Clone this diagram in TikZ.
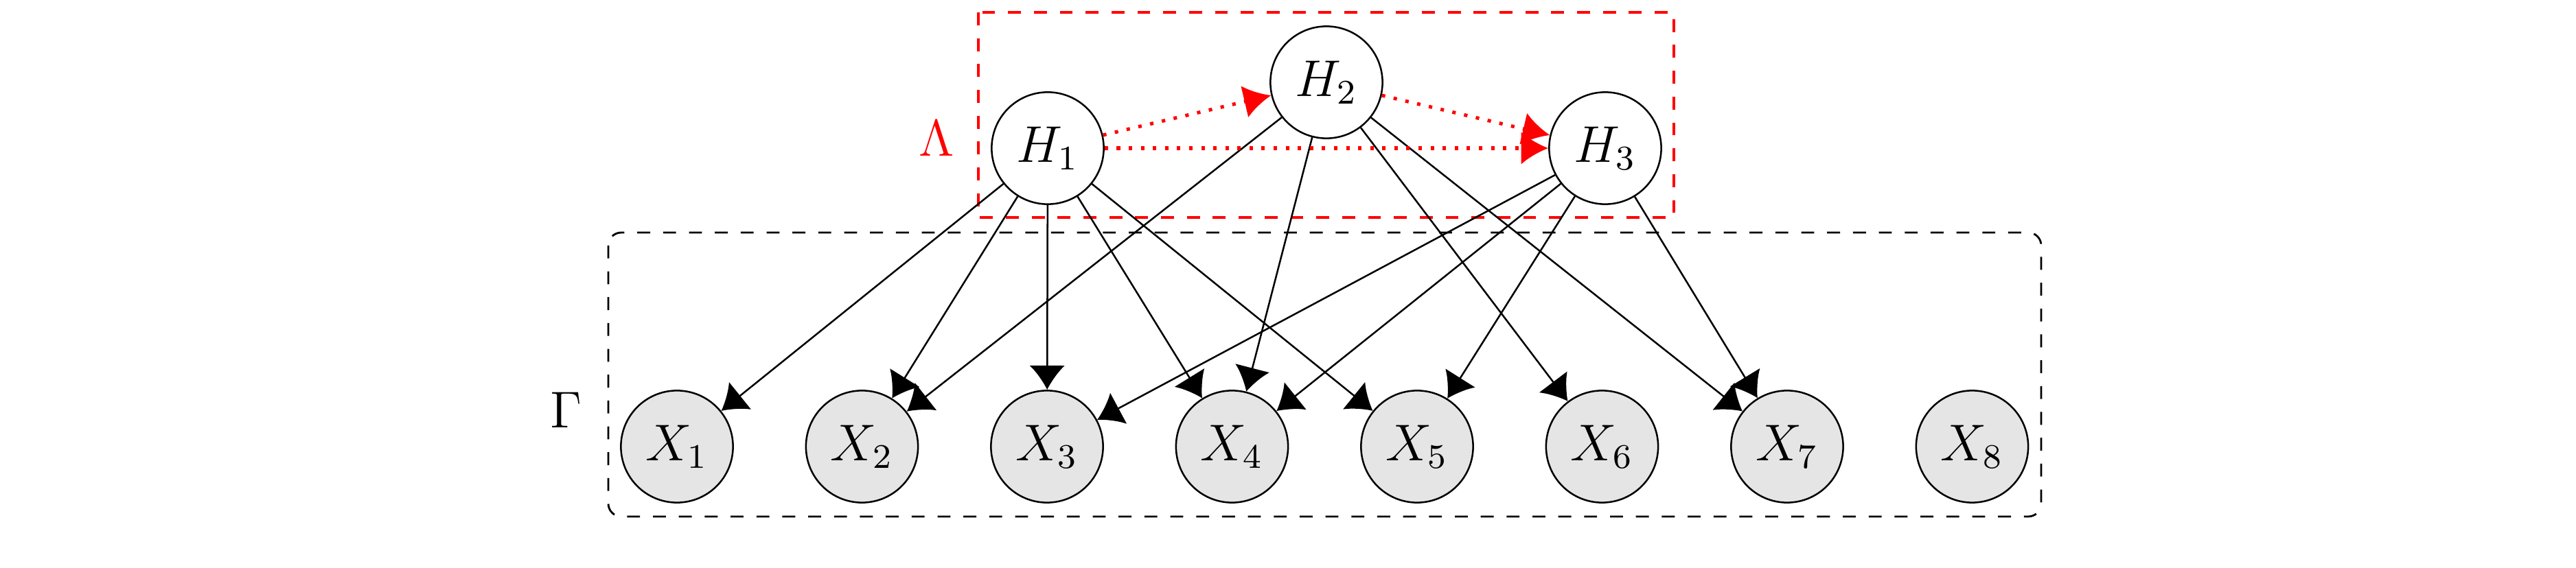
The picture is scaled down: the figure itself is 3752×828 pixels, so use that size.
\documentclass[tikz,border=0pt]{standalone}
\usetikzlibrary{arrows.meta}
\begin{document}
\begin{tikzpicture}[x=0.15925pt,y=-0.15925pt,
  font=\fontsize{12}{14.4}\selectfont,
  hid/.style={circle,draw,minimum size=26pt,inner sep=0pt},
  obs/.style={circle,draw,fill=gray!20,minimum size=26pt,inner sep=0pt},
  edge/.style={-{Latex[length=5.6pt,width=8.2pt]}},
  redge/.style={red,thick,dotted,-{Latex[length=6.3pt,width=7.6pt]}},
  ]
\useasboundingbox (0,0) rectangle (3752,828);
\draw[dashed, rounded corners=3pt, line width=0.45pt] (886,339) rectangle (2973,753);
\draw[red,dashed, line width=0.5pt] (1425,18) rectangle (2438,317);
\node[red] (lam) at (1364,202) {$\Lambda$};
\node (gam) at (825,598) {$\Gamma$};
\node[hid] (H1) at (1526,216) {$H_1$};
\node[hid] (H2) at (1932,120) {$H_2$};
\node[hid] (H3) at (2338,216) {$H_3$};
\foreach \i in {1,...,8} {
  \node[obs] (X\i) at ({986+269.5*(\i-1)},651) {$X_{\i}$};
}
\foreach \t in {1,2,3,4,5} \draw[edge] (H1) -- (X\t);
\foreach \t in {2,4,6,7} \draw[edge] (H2) -- (X\t);
\foreach \t in {3,4,5,7} \draw[edge] (H3) -- (X\t);
\draw[redge] (H1) -- (H2);
\draw[redge] (H2) -- (H3);
\draw[redge] (H1) -- (H3);
\end{tikzpicture}
\end{document}
